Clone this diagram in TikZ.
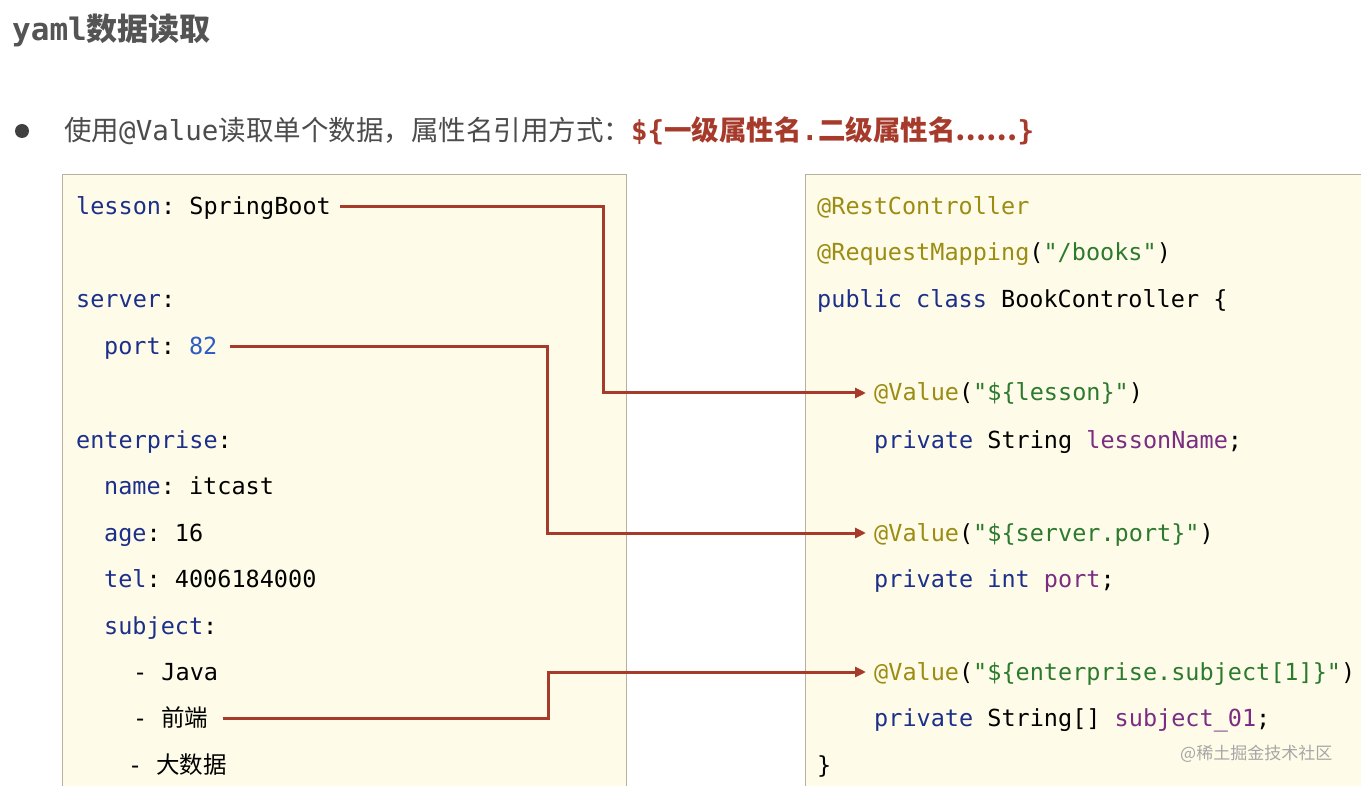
\documentclass[tikz,border=0pt]{standalone}
\usepackage{fontspec}
\setmonofont{DejaVu Sans Mono}
\newfontfamily\cjk{Noto Sans CJK SC}
\usetikzlibrary{arrows.meta}
\definecolor{boxbg}{HTML}{FEFCE8}
\definecolor{boxln}{HTML}{B5B2A0}
\definecolor{conn}{HTML}{A63A2B}
\definecolor{kw}{HTML}{1C2F8A}
\definecolor{num}{HTML}{2E5CC4}
\definecolor{ann}{HTML}{9C8C14}
\definecolor{str}{HTML}{2C7A2E}
\definecolor{fld}{HTML}{7B2D82}
\begin{document}
\begin{tikzpicture}[x=1pt,y=-1pt,
  code/.style={anchor=base west,inner sep=0,font=\fontsize{23.5}{23.5}\ttfamily},
  conline/.style={draw=conn,line width=3pt},
  tip/.style={-{Triangle[length=11,width=10]}}]
\useasboundingbox (0,0) rectangle (1361,786);
\fill[white] (0,0) rectangle (1361,786);
\node[anchor=base west,inner sep=0,text=black!67,font=\fontsize{31}{31}\bfseries] (title) at (12,41) {\ttfamily yaml\cjk 数据读取};
\fill[black!75] (22,131) circle (7);
\node[anchor=base west,inner sep=0,font=\fontsize{27.5}{27.5}\cjk] (bul) at (64,141) {\textcolor{black!70}{使用\ttfamily @Value\cjk 读取单个数据，属性名引用方式：}\textcolor{conn}{\bfseries\ttfamily \$\{\cjk 一级属性名\ttfamily .\cjk 二级属性名……\ttfamily \}}};
\fill[boxbg] (62,175) rectangle (626,800);
\fill[boxbg] (805,175) rectangle (1370,800);
\draw[boxln,line width=1pt] (62,800) -- (62,175) -- (626,175) -- (626,800);
\draw[boxln,line width=1pt] (805,800) -- (805,175) -- (1370,175);
% left
\node[code] (l1) at (76,215) {\textcolor{kw}{lesson}: SpringBoot};
\node[code] (l2) at (76,308) {\textcolor{kw}{server}:};
\node[code] (l3) at (104,355) {\textcolor{kw}{port}: \textcolor{num}{82}};
\node[code] (l4) at (76,448) {\textcolor{kw}{enterprise}:};
\node[code] (l5) at (104,494) {\textcolor{kw}{name}: itcast};
\node[code] (l6) at (104,541) {\textcolor{kw}{age}: 16};
\node[code] (l7) at (104,587) {\textcolor{kw}{tel}: 4006184000};
\node[code] (l8) at (104,634) {\textcolor{kw}{subject}:};
\node[code] (l9) at (133,680) {- Java};
\node[code] (l10) at (133,726) {- {\cjk 前端}};
\node[code] (l11) at (128,773) {- {\cjk 大数据}};
% right
\node[code] (r1) at (817,215) {\textcolor{ann}{@RestController}};
\node[code] (r2) at (817,261) {\textcolor{ann}{@RequestMapping}(\textcolor{str}{"/books"})};
\node[code] (r3) at (817,308) {\textcolor{kw}{public class} BookController \{};
\node[code] (r4) at (874,401) {\textcolor{ann}{@Value}(\textcolor{str}{"\$\{lesson\}"})};
\node[code] (r5) at (874,448) {\textcolor{kw}{private} String \textcolor{fld}{lessonName};};
\node[code] (r6) at (874,541) {\textcolor{ann}{@Value}(\textcolor{str}{"\$\{server.port\}"})};
\node[code] (r7) at (874,587) {\textcolor{kw}{private int} \textcolor{fld}{port};};
\node[code] (r8) at (874,680) {\textcolor{ann}{@Value}(\textcolor{str}{"\$\{enterprise.subject[1]\}"})};
\node[code] (r9) at (874,726) {\textcolor{kw}{private} String[] \textcolor{fld}{subject\_01};};
\node[code] (r10) at (817,773) {\}};
\node[anchor=base west,inner sep=0,text=black!35,font=\fontsize{17}{17}\cjk] (wm) at (1180,759) {@稀土掘金技术社区};
% connectors
\draw[conline,tip] ([shift={(9,-8)}]l1.base east) -- (603,207) |- ([shift={(-8,-8)}]r4.base west);
\draw[conline,tip] ([shift={(12,-8)}]l3.base east) -- (547,347) |- ([shift={(-8,-8)}]r6.base west);
\draw[conline,tip] ([shift={(14,-8)}]l10.base east) -- (548,718) |- ([shift={(-8,-8)}]r8.base west);
\end{tikzpicture}
\end{document}
